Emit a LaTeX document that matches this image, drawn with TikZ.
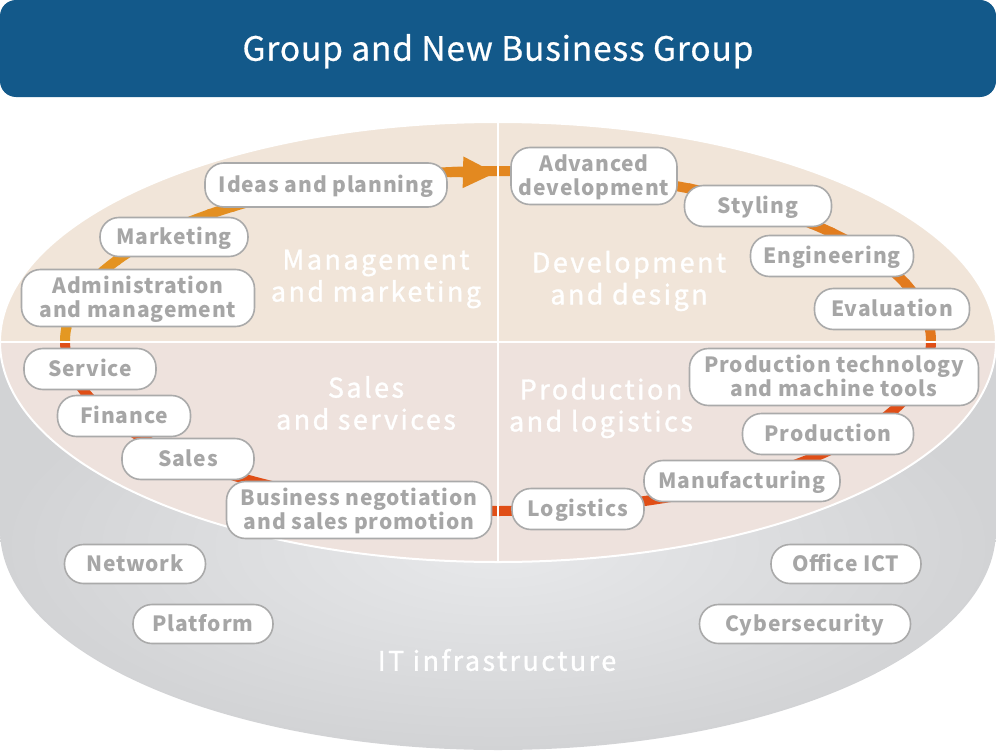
\documentclass[tikz,border=0pt]{standalone}
\usepackage{fontspec}
\usepackage{xcolor}
\usepackage{tikz}
\usetikzlibrary{arrows.meta,positioning}

\setmainfont{Noto Sans CJK JP}
\newfontfamily\hdrfont{Noto Sans CJK JP}[LetterSpace=2.5, FakeBold=0.6]
\newfontfamily\areafont{Noto Sans CJK JP}[LetterSpace=9, FakeBold=1.2]
\newfontfamily\stagefont{Noto Sans CJK JP}[LetterSpace=4]

\definecolor{hdrblue}{RGB}{19,89,138}
\definecolor{topbeige}{RGB}{241,229,217}
\definecolor{botpink}{RGB}{238,226,221}
\definecolor{cylgray}{RGB}{232,233,235}
\definecolor{cyldark}{RGB}{210,211,213}
\definecolor{boxline}{RGB}{170,170,170}
\definecolor{boxtext}{RGB}{166,166,166}
\definecolor{flowamber}{RGB}{228,152,34}
\definecolor{floworange}{RGB}{226,118,30}
\definecolor{flowred}{RGB}{224,78,22}

\begin{document}
\begin{tikzpicture}[x=1pt, y=-1pt,
  stage/.style={draw=boxline, line width=1.6pt, fill=white, rounded corners=19pt,
    text=boxtext, font={\stagefont\bfseries\fontsize{21}{24}\selectfont},
    align=center, minimum height=41pt, inner sep=0pt,
    text height=15.5pt, text depth=0pt},
  twoline/.style={stage, minimum height=57pt, text height=39.5pt, text depth=0pt},
  area/.style={text=white, align=center,
    font={\areafont\fontsize{27}{32}\selectfont}},
  divider/.style={white, line width=2pt},
  flow/.style={line width=10pt},
]
  \useasboundingbox (0,0) rectangle (996,752);

  % Header bar
  \node[fill=hdrblue, rounded corners=16pt, minimum width=996pt,
    minimum height=97pt, inner sep=0pt, text=white,
    text height=24.5pt, text depth=0pt,
    font={\hdrfont\fontsize{33.5}{36}\selectfont}] (header) at (498,48.5)
    {Group and New Business Group};

  % Cylinder: body, then top face in two halves
  \shade[inner color=cylgray, outer color=cyldark] (0,342) -- (0,530)
    arc[start angle=180, end angle=0, x radius=498, y radius=220]
    -- (996,342) -- cycle;
  \fill[topbeige] (0,342)
    arc[start angle=180, end angle=360, x radius=498, y radius=220] -- cycle;
  \fill[botpink] (0,342)
    arc[start angle=180, end angle=0, x radius=498, y radius=220] -- cycle;

  % Value chain loop: amber to orange on top, red below
  \foreach \a in {180,184,...,356} {
    \pgfmathsetmacro{\mix}{(\a-180)/1.8}
    \draw[flow, floworange!\mix!flowamber, shift={(498,341)}]
      (\a:433 and 170) arc[start angle=\a, end angle=\a+4.6,
        x radius=433, y radius=170];
  }
  \draw[flow, flowred, shift={(498,341)}]
    (0:433 and 170) arc[start angle=0, end angle=180,
      x radius=433, y radius=170];
  \coordinate (arrowtail) at (450,172);
  \coordinate (arrowtip) at (496,173);
  \draw[flow, floworange!45!flowamber,
    -{Triangle[length=33pt, width=29pt]}] (arrowtail) -- (arrowtip);

  % Outline and quarter lines
  \draw[divider] (498,342) ellipse[x radius=498, y radius=220];
  \draw[divider] (498,122) -- (498,562);
  \draw[divider] (0,342) -- (996,342);

  % Quarter titles
  \node[area] (mgmt) at (376,279) {Management\\and marketing};
  \node[area] (devdesign) at (629,281) {Development\\and design};
  \node[area] (salesserv) at (366,403) {Sales\\and services};
  \node[area] (prodlog) at (601,408) {Production\\and logistics};
  \node[area] (itinfra) at (497,660) {IT infrastructure};

  % Management and marketing
  \node[twoline, minimum width=233pt] (admin) at (138,298)
    {Administration\\and management};
  \node[stage, minimum width=148pt, minimum height=39pt] (marketing)
    at (174,237) {Marketing};
  \node[stage, minimum width=242pt, minimum height=44pt] (ideas)
    at (326,185) {Ideas and planning};

  % Development and design
  \node[twoline, minimum width=166pt] (advdev) at (594,176)
    {Advanced\\development};
  \node[stage, minimum width=147pt] (styling) at (758,206) {Styling};
  \node[stage, minimum width=163pt] (engineering) at (832,256) {Engineering};
  \node[stage, minimum width=155pt] (evaluation) at (892,309) {Evaluation};

  % Production and logistics
  \node[twoline, minimum width=289pt] (prodtech) at (834,377)
    {Production technology\\and machine tools};
  \node[stage, minimum width=171pt] (production) at (828,434) {Production};
  \node[stage, minimum width=196pt] (manufacturing) at (742,481)
    {Manufacturing};
  \node[stage, minimum width=132pt] (logistics) at (578,509) {Logistics};

  % Sales and services
  \node[twoline, minimum width=265pt] (negotiation) at (359,510)
    {Business negotiation\\and sales promotion};
  \node[stage, minimum width=132pt] (sales) at (188,459) {Sales};
  \node[stage, minimum width=133pt] (finance) at (124,416) {Finance};
  \node[stage, minimum width=132pt] (service) at (90,369) {Service};

  % IT infrastructure
  \node[stage, minimum width=141pt, minimum height=39pt] (network)
    at (135,564) {Network};
  \node[stage, minimum width=140pt, minimum height=39pt] (platform)
    at (203,624) {Platform};
  \node[stage, minimum width=150pt, minimum height=39pt] (officeict)
    at (846,564) {Office ICT};
  \node[stage, minimum width=211pt, minimum height=39pt] (cybersec)
    at (805,624) {Cybersecurity};
\end{tikzpicture}
\end{document}
